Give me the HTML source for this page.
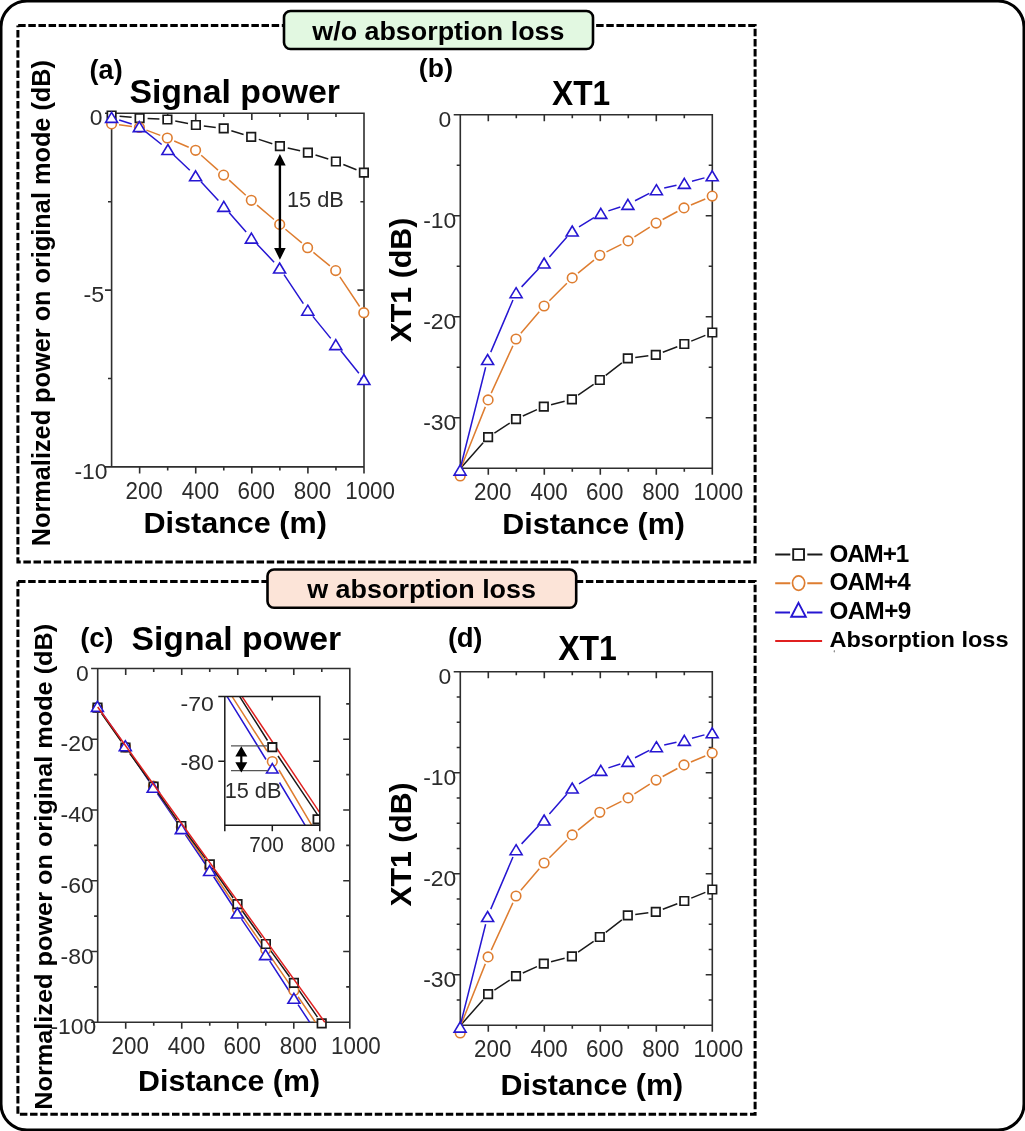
<!DOCTYPE html>
<html><head><meta charset="utf-8"><title>figure</title>
<style>
html,body{margin:0;padding:0;background:#fff;overflow:hidden;}
svg{display:block;}
text{font-family:'Liberation Sans', Arial, sans-serif;}
</style></head>
<body>
<svg width="1025" height="1131" viewBox="0 0 1025 1131">
<rect width="1025" height="1131" fill="#fff"/>
<rect x="1" y="1" width="1023" height="1129" rx="26" ry="26" fill="none" stroke="#000" stroke-width="3"/>
<rect x="17.9" y="25.5" width="737.2" height="536.4" fill="none" stroke="#000" stroke-width="3" stroke-dasharray="7.5 2.64" stroke-dashoffset="9.88"/>
<rect x="17.9" y="581.5" width="737.2" height="532.8" fill="none" stroke="#000" stroke-width="3" stroke-dasharray="7.5 2.64" stroke-dashoffset="10.02"/>
<rect x="284" y="11" width="309" height="38" rx="6.5" fill="#e2f8e1" stroke="#000" stroke-width="2.6"/>
<text transform="translate(312.30 39.69) scale(1.0440 1)" font-size="25.74" font-weight="bold" fill="#000">w/o absorption loss</text>
<rect x="267.5" y="569.5" width="308.7" height="38.3" rx="6.5" fill="#fce4d8" stroke="#000" stroke-width="2.6"/>
<text transform="translate(307.20 598.13) scale(1.0331 1)" font-size="26.06" font-weight="bold" fill="#000">w absorption loss</text>
<path d="M111.6 113.3H364.0V466.9H111.6ZM139.64 466.9v6.6M139.64 113.3v6.6M167.69 466.9v3.6M167.69 113.3v3.6M195.73 466.9v6.6M195.73 113.3v6.6M223.78 466.9v3.6M223.78 113.3v3.6M251.82 466.9v6.6M251.82 113.3v6.6M279.87 466.9v3.6M279.87 113.3v3.6M307.91 466.9v6.6M307.91 113.3v6.6M335.96 466.9v3.6M335.96 113.3v3.6M364.00 466.9v6.6M364.00 113.3v6.6M111.6 113.30h-6.6M364.0 113.30h-6.6M111.6 201.70h-3.6M364.0 201.70h-3.6M111.6 290.10h-6.6M364.0 290.10h-6.6M111.6 378.50h-3.6M364.0 378.50h-3.6M111.6 466.90h-6.6M364.0 466.90h-6.6" stroke="#2e2e2e" stroke-width="1.6" fill="none"/>
<path d="M119.57 116.24L131.63 117.36M147.59 118.50L159.41 119.10M175.26 121.02L188.04 123.48M203.84 125.97L215.76 127.43M231.34 130.76L243.56 134.54M258.81 139.37L272.29 143.73M287.70 147.98L300.10 150.82M315.52 155.02L328.28 159.08M343.33 164.47L356.47 169.73" stroke="#1a1a1a" stroke-width="1.5" fill="none"/>
<path d="M119.04 124.86L131.96 126.54M146.42 130.14L160.28 135.36M174.18 140.99L188.72 147.31M201.21 155.27L217.99 170.13M229.15 180.15L245.75 195.25M257.02 205.15L273.98 219.55M285.46 229.21L301.84 242.89M313.41 252.44L329.89 265.86M339.86 276.84L359.64 306.46" stroke="#de7d30" stroke-width="1.5" fill="none"/>
<path d="M119.19 119.92L131.71 124.08M145.54 131.60L161.66 144.50M173.70 155.01L189.80 170.29M201.02 181.68L218.38 200.52M229.05 212.43L246.15 232.07M256.89 243.92L274.11 262.18M284.04 274.65L303.36 303.55M312.85 316.40L330.75 338.40M340.82 350.83L358.88 373.27" stroke="#2616d2" stroke-width="1.5" fill="none"/>
<path d="M107.35 111.25h8.5v8.5h-8.5zM135.35 113.85h8.5v8.5h-8.5zM163.15 115.25h8.5v8.5h-8.5zM191.65 120.75h8.5v8.5h-8.5zM219.45 124.15h8.5v8.5h-8.5zM246.95 132.65h8.5v8.5h-8.5zM275.65 141.95h8.5v8.5h-8.5zM303.65 148.35h8.5v8.5h-8.5zM331.65 157.25h8.5v8.5h-8.5zM359.65 168.45h8.5v8.5h-8.5z" stroke="#1a1a1a" stroke-width="1.7" fill="#fff"/>
<circle cx="111.60" cy="123.90" r="4.8" stroke="#de7d30" stroke-width="1.6" fill="#fff"/><circle cx="139.40" cy="127.50" r="4.8" stroke="#de7d30" stroke-width="1.6" fill="#fff"/><circle cx="167.30" cy="138.00" r="4.8" stroke="#de7d30" stroke-width="1.6" fill="#fff"/><circle cx="195.60" cy="150.30" r="4.8" stroke="#de7d30" stroke-width="1.6" fill="#fff"/><circle cx="223.60" cy="175.10" r="4.8" stroke="#de7d30" stroke-width="1.6" fill="#fff"/><circle cx="251.30" cy="200.30" r="4.8" stroke="#de7d30" stroke-width="1.6" fill="#fff"/><circle cx="279.70" cy="224.40" r="4.8" stroke="#de7d30" stroke-width="1.6" fill="#fff"/><circle cx="307.60" cy="247.70" r="4.8" stroke="#de7d30" stroke-width="1.6" fill="#fff"/><circle cx="335.70" cy="270.60" r="4.8" stroke="#de7d30" stroke-width="1.6" fill="#fff"/><circle cx="363.80" cy="312.70" r="4.8" stroke="#de7d30" stroke-width="1.6" fill="#fff"/>
<path d="M111.60 112.40L117.60 122.40L105.60 122.40zM139.30 121.60L145.30 131.60L133.30 131.60zM167.90 144.50L173.90 154.50L161.90 154.50zM195.60 170.80L201.60 180.80L189.60 180.80zM223.80 201.40L229.80 211.40L217.80 211.40zM251.40 233.10L257.40 243.10L245.40 243.10zM279.60 263.00L285.60 273.00L273.60 273.00zM307.80 305.20L313.80 315.20L301.80 315.20zM335.80 339.60L341.80 349.60L329.80 349.60zM363.90 374.50L369.90 384.50L357.90 384.50z" stroke="#2616d2" stroke-width="1.6" fill="#fff" stroke-linejoin="miter"/>
<path d="M279.9 162V252" stroke="#000" stroke-width="2.4"/>
<path d="M279.9 154L285.7 165.6H274.1Z M279.9 259.7L285.7 248.1H274.1Z" fill="#000"/>
<text transform="translate(286.96 206.99) scale(1.0263 1)" font-size="21.22" font-weight="normal" fill="#2b2b2b">15 dB</text>
<text transform="translate(125.42 498.77) scale(0.9700 1)" font-size="23.10" font-weight="normal" fill="#2b2b2b">200</text><text transform="translate(181.85 498.77) scale(0.9700 1)" font-size="23.10" font-weight="normal" fill="#2b2b2b">400</text><text transform="translate(237.60 498.77) scale(0.9700 1)" font-size="23.10" font-weight="normal" fill="#2b2b2b">600</text><text transform="translate(293.80 498.77) scale(0.9700 1)" font-size="23.10" font-weight="normal" fill="#2b2b2b">800</text><text transform="translate(345.18 498.77) scale(0.9700 1)" font-size="23.10" font-weight="normal" fill="#2b2b2b">1000</text>
<text transform="translate(89.78 125.48) scale(1.0300 1)" font-size="22.25" font-weight="normal" fill="#2b2b2b">0</text><text transform="translate(83.54 302.27) scale(1.0300 1)" font-size="22.57" font-weight="normal" fill="#2b2b2b">-5</text><text transform="translate(74.48 479.08) scale(1.0300 1)" font-size="22.25" font-weight="normal" fill="#2b2b2b">-10</text>
<text transform="translate(143.46 533.09) scale(1.0339 1)" font-size="29.57" font-weight="bold" fill="#000">Distance (m)</text>
<text transform="translate(50.46 546.27) rotate(-90) scale(0.9950 1)" font-size="25.43" font-weight="bold" fill="#000">Normalized power on original mode (dB)</text>
<text transform="translate(89.45 78.83)" font-size="27.02" font-weight="bold" fill="#000" letter-spacing="0.12">(a)</text>
<text transform="translate(129.38 102.67) scale(1.0265 1)" font-size="32.98" font-weight="bold" fill="#000">Signal power</text>
<g transform="translate(0 0)"><path d="M460.3 114.7H712.3V468.2H460.3ZM488.30 468.2v6.6M488.30 114.7v6.6M516.30 468.2v3.6M516.30 114.7v3.6M544.30 468.2v6.6M544.30 114.7v6.6M572.30 468.2v3.6M572.30 114.7v3.6M600.30 468.2v6.6M600.30 114.7v6.6M628.30 468.2v3.6M628.30 114.7v3.6M656.30 468.2v6.6M656.30 114.7v6.6M684.30 468.2v3.6M684.30 114.7v3.6M712.30 468.2v6.6M712.30 114.7v6.6M460.3 114.70h-6.6M712.3 114.70h-6.6M460.3 165.20h-3.6M712.3 165.20h-3.6M460.3 215.70h-6.6M712.3 215.70h-6.6M460.3 266.20h-3.6M712.3 266.20h-3.6M460.3 316.70h-6.6M712.3 316.70h-6.6M460.3 367.20h-3.6M712.3 367.20h-3.6M460.3 417.70h-6.6M712.3 417.70h-6.6" stroke="#2e2e2e" stroke-width="1.6" fill="none"/><path d="M461.50 467.20L483.13 442.72M494.40 433.03L509.70 423.17M522.84 416.02L536.96 409.68M551.06 404.71L564.64 401.19M578.07 395.03L593.63 384.27M605.73 375.41L621.87 362.89M635.25 357.40L648.35 355.80M662.81 352.22L677.29 346.68M691.24 341.15L705.36 335.35" stroke="#1a1a1a" stroke-width="1.5" fill="none"/><path d="M461.50 466.50L485.32 406.87M491.22 393.08L512.88 345.82M520.86 333.29L539.24 311.71M549.40 300.70L566.90 283.20M578.00 273.15L594.00 260.05M606.48 251.90L621.42 244.30M634.43 236.88L649.77 227.12M662.69 219.51L677.41 211.49M690.92 205.00L705.28 199.00" stroke="#de7d30" stroke-width="1.5" fill="none"/><path d="M461.00 465.50L485.65 367.26M490.74 352.14L512.96 300.06M521.59 286.88L538.61 268.82M549.38 256.99L566.92 237.01M579.01 226.81L593.99 217.59M608.39 210.88L620.31 206.92M635.01 200.73L649.29 193.37M664.20 187.94L676.50 185.16M692.02 181.30L704.48 177.90" stroke="#2616d2" stroke-width="1.5" fill="none"/><path d="M483.85 432.85h8.5v8.5h-8.5zM511.75 414.85h8.5v8.5h-8.5zM539.55 402.35h8.5v8.5h-8.5zM567.65 395.05h8.5v8.5h-8.5zM595.55 375.75h8.5v8.5h-8.5zM623.55 354.05h8.5v8.5h-8.5zM651.55 350.65h8.5v8.5h-8.5zM680.05 339.75h8.5v8.5h-8.5zM708.05 328.25h8.5v8.5h-8.5z" stroke="#1a1a1a" stroke-width="1.7" fill="#fff"/><circle cx="460.20" cy="476.00" r="4.8" stroke="#de7d30" stroke-width="1.6" fill="#fff"/><circle cx="488.10" cy="399.90" r="4.8" stroke="#de7d30" stroke-width="1.6" fill="#fff"/><circle cx="516.00" cy="339.00" r="4.8" stroke="#de7d30" stroke-width="1.6" fill="#fff"/><circle cx="544.10" cy="306.00" r="4.8" stroke="#de7d30" stroke-width="1.6" fill="#fff"/><circle cx="572.20" cy="277.90" r="4.8" stroke="#de7d30" stroke-width="1.6" fill="#fff"/><circle cx="599.80" cy="255.30" r="4.8" stroke="#de7d30" stroke-width="1.6" fill="#fff"/><circle cx="628.10" cy="240.90" r="4.8" stroke="#de7d30" stroke-width="1.6" fill="#fff"/><circle cx="656.10" cy="223.10" r="4.8" stroke="#de7d30" stroke-width="1.6" fill="#fff"/><circle cx="684.00" cy="207.90" r="4.8" stroke="#de7d30" stroke-width="1.6" fill="#fff"/><circle cx="712.20" cy="196.10" r="4.8" stroke="#de7d30" stroke-width="1.6" fill="#fff"/><path d="M460.10 465.10L466.10 475.10L454.10 475.10zM487.60 354.50L493.60 364.50L481.60 364.50zM516.10 287.70L522.10 297.70L510.10 297.70zM544.10 258.00L550.10 268.00L538.10 268.00zM572.20 226.00L578.20 236.00L566.20 236.00zM600.80 208.40L606.80 218.40L594.80 218.40zM627.90 199.40L633.90 209.40L621.90 209.40zM656.40 184.70L662.40 194.70L650.40 194.70zM684.30 178.40L690.30 188.40L678.30 188.40zM712.20 170.80L718.20 180.80L706.20 180.80z" stroke="#2616d2" stroke-width="1.6" fill="#fff" stroke-linejoin="miter"/><text transform="translate(474.08 500.07) scale(0.9700 1)" font-size="23.10" font-weight="normal" fill="#2b2b2b">200</text><text transform="translate(530.42 500.07) scale(0.9700 1)" font-size="23.10" font-weight="normal" fill="#2b2b2b">400</text><text transform="translate(586.08 500.07) scale(0.9700 1)" font-size="23.10" font-weight="normal" fill="#2b2b2b">600</text><text transform="translate(642.19 500.07) scale(0.9700 1)" font-size="23.10" font-weight="normal" fill="#2b2b2b">800</text><text transform="translate(693.48 500.07) scale(0.9700 1)" font-size="23.10" font-weight="normal" fill="#2b2b2b">1000</text><text transform="translate(438.48 126.88) scale(1.0300 1)" font-size="22.25" font-weight="normal" fill="#2b2b2b">0</text><text transform="translate(423.18 227.88) scale(1.0300 1)" font-size="22.25" font-weight="normal" fill="#2b2b2b">-10</text><text transform="translate(423.18 328.88) scale(1.0300 1)" font-size="22.25" font-weight="normal" fill="#2b2b2b">-20</text><text transform="translate(423.18 429.88) scale(1.0300 1)" font-size="22.25" font-weight="normal" fill="#2b2b2b">-30</text></g>
<text transform="translate(411.17 342.60) rotate(-90) scale(1.0257 1)" font-size="29.68" font-weight="bold" fill="#000">XT1 (dB)</text>
<text transform="translate(418.68 77.24)" font-size="26.49" font-weight="bold" fill="#000" letter-spacing="0.32">(b)</text>
<text transform="translate(551.98 104.90) scale(0.9082 1)" font-size="34.93" font-weight="bold" fill="#000">XT1</text>
<text transform="translate(502.37 533.70) scale(1.0142 1)" font-size="30.00" font-weight="bold" fill="#000">Distance (m)</text>
<g transform="translate(0 557)"><path d="M460.3 114.7H712.3V468.2H460.3ZM488.30 468.2v6.6M488.30 114.7v6.6M516.30 468.2v3.6M516.30 114.7v3.6M544.30 468.2v6.6M544.30 114.7v6.6M572.30 468.2v3.6M572.30 114.7v3.6M600.30 468.2v6.6M600.30 114.7v6.6M628.30 468.2v3.6M628.30 114.7v3.6M656.30 468.2v6.6M656.30 114.7v6.6M684.30 468.2v3.6M684.30 114.7v3.6M712.30 468.2v6.6M712.30 114.7v6.6M460.3 114.70h-6.6M712.3 114.70h-6.6M460.3 139.95h-3.6M712.3 139.95h-3.6M460.3 165.20h-3.6M712.3 165.20h-3.6M460.3 190.45h-3.6M712.3 190.45h-3.6M460.3 215.70h-6.6M712.3 215.70h-6.6M460.3 240.95h-3.6M712.3 240.95h-3.6M460.3 266.20h-3.6M712.3 266.20h-3.6M460.3 291.45h-3.6M712.3 291.45h-3.6M460.3 316.70h-6.6M712.3 316.70h-6.6M460.3 341.95h-3.6M712.3 341.95h-3.6M460.3 367.20h-3.6M712.3 367.20h-3.6M460.3 392.45h-3.6M712.3 392.45h-3.6M460.3 417.70h-6.6M712.3 417.70h-6.6M460.3 442.95h-3.6M712.3 442.95h-3.6" stroke="#2e2e2e" stroke-width="1.6" fill="none"/><path d="M461.50 467.20L483.13 442.72M494.40 433.03L509.70 423.17M522.84 416.02L536.96 409.68M551.06 404.71L564.64 401.19M578.07 395.03L593.63 384.27M605.73 375.41L621.87 362.89M635.25 357.40L648.35 355.80M662.81 352.22L677.29 346.68M691.24 341.15L705.36 335.35" stroke="#1a1a1a" stroke-width="1.5" fill="none"/><path d="M461.50 466.50L485.32 406.87M491.22 393.08L512.88 345.82M520.86 333.29L539.24 311.71M549.40 300.70L566.90 283.20M578.00 273.15L594.00 260.05M606.48 251.90L621.42 244.30M634.43 236.88L649.77 227.12M662.69 219.51L677.41 211.49M690.92 205.00L705.28 199.00" stroke="#de7d30" stroke-width="1.5" fill="none"/><path d="M461.00 465.50L485.65 367.26M490.74 352.14L512.96 300.06M521.59 286.88L538.61 268.82M549.38 256.99L566.92 237.01M579.01 226.81L593.99 217.59M608.39 210.88L620.31 206.92M635.01 200.73L649.29 193.37M664.20 187.94L676.50 185.16M692.02 181.30L704.48 177.90" stroke="#2616d2" stroke-width="1.5" fill="none"/><path d="M483.85 432.85h8.5v8.5h-8.5zM511.75 414.85h8.5v8.5h-8.5zM539.55 402.35h8.5v8.5h-8.5zM567.65 395.05h8.5v8.5h-8.5zM595.55 375.75h8.5v8.5h-8.5zM623.55 354.05h8.5v8.5h-8.5zM651.55 350.65h8.5v8.5h-8.5zM680.05 339.75h8.5v8.5h-8.5zM708.05 328.25h8.5v8.5h-8.5z" stroke="#1a1a1a" stroke-width="1.7" fill="#fff"/><circle cx="460.20" cy="476.00" r="4.8" stroke="#de7d30" stroke-width="1.6" fill="#fff"/><circle cx="488.10" cy="399.90" r="4.8" stroke="#de7d30" stroke-width="1.6" fill="#fff"/><circle cx="516.00" cy="339.00" r="4.8" stroke="#de7d30" stroke-width="1.6" fill="#fff"/><circle cx="544.10" cy="306.00" r="4.8" stroke="#de7d30" stroke-width="1.6" fill="#fff"/><circle cx="572.20" cy="277.90" r="4.8" stroke="#de7d30" stroke-width="1.6" fill="#fff"/><circle cx="599.80" cy="255.30" r="4.8" stroke="#de7d30" stroke-width="1.6" fill="#fff"/><circle cx="628.10" cy="240.90" r="4.8" stroke="#de7d30" stroke-width="1.6" fill="#fff"/><circle cx="656.10" cy="223.10" r="4.8" stroke="#de7d30" stroke-width="1.6" fill="#fff"/><circle cx="684.00" cy="207.90" r="4.8" stroke="#de7d30" stroke-width="1.6" fill="#fff"/><circle cx="712.20" cy="196.10" r="4.8" stroke="#de7d30" stroke-width="1.6" fill="#fff"/><path d="M460.10 465.10L466.10 475.10L454.10 475.10zM487.60 354.50L493.60 364.50L481.60 364.50zM516.10 287.70L522.10 297.70L510.10 297.70zM544.10 258.00L550.10 268.00L538.10 268.00zM572.20 226.00L578.20 236.00L566.20 236.00zM600.80 208.40L606.80 218.40L594.80 218.40zM627.90 199.40L633.90 209.40L621.90 209.40zM656.40 184.70L662.40 194.70L650.40 194.70zM684.30 178.40L690.30 188.40L678.30 188.40zM712.20 170.80L718.20 180.80L706.20 180.80z" stroke="#2616d2" stroke-width="1.6" fill="#fff" stroke-linejoin="miter"/><text transform="translate(474.08 500.07) scale(0.9700 1)" font-size="23.10" font-weight="normal" fill="#2b2b2b">200</text><text transform="translate(530.42 500.07) scale(0.9700 1)" font-size="23.10" font-weight="normal" fill="#2b2b2b">400</text><text transform="translate(586.08 500.07) scale(0.9700 1)" font-size="23.10" font-weight="normal" fill="#2b2b2b">600</text><text transform="translate(642.19 500.07) scale(0.9700 1)" font-size="23.10" font-weight="normal" fill="#2b2b2b">800</text><text transform="translate(693.48 500.07) scale(0.9700 1)" font-size="23.10" font-weight="normal" fill="#2b2b2b">1000</text><text transform="translate(438.48 126.88) scale(1.0300 1)" font-size="22.25" font-weight="normal" fill="#2b2b2b">0</text><text transform="translate(423.18 227.88) scale(1.0300 1)" font-size="22.25" font-weight="normal" fill="#2b2b2b">-10</text><text transform="translate(423.18 328.88) scale(1.0300 1)" font-size="22.25" font-weight="normal" fill="#2b2b2b">-20</text><text transform="translate(423.18 429.88) scale(1.0300 1)" font-size="22.25" font-weight="normal" fill="#2b2b2b">-30</text></g>
<text transform="translate(411.17 906.60) rotate(-90) scale(1.0191 1)" font-size="29.68" font-weight="bold" fill="#000">XT1 (dB)</text>
<text transform="translate(447.92 646.91)" font-size="27.55" font-weight="bold" fill="#000" letter-spacing="-0.31">(d)</text>
<text transform="translate(558.18 660.00) scale(0.9049 1)" font-size="35.36" font-weight="bold" fill="#000">XT1</text>
<text transform="translate(500.47 1094.64) scale(1.0214 1)" font-size="29.79" font-weight="bold" fill="#000">Distance (m)</text>
<path d="M97.7 668.5H349.8V1022.2H97.7ZM125.71 1022.2v6.6M125.71 668.5v6.6M153.72 1022.2v3.6M153.72 668.5v3.6M181.73 1022.2v6.6M181.73 668.5v6.6M209.74 1022.2v3.6M209.74 668.5v3.6M237.76 1022.2v6.6M237.76 668.5v6.6M265.77 1022.2v3.6M265.77 668.5v3.6M293.78 1022.2v6.6M293.78 668.5v6.6M321.79 1022.2v3.6M321.79 668.5v3.6M349.80 1022.2v6.6M349.80 668.5v6.6M97.7 668.50h-6.6M349.8 668.50h-6.6M97.7 703.87h-3.6M349.8 703.87h-3.6M97.7 739.24h-6.6M349.8 739.24h-6.6M97.7 774.61h-3.6M349.8 774.61h-3.6M97.7 809.98h-6.6M349.8 809.98h-6.6M97.7 845.35h-3.6M349.8 845.35h-3.6M97.7 880.72h-6.6M349.8 880.72h-6.6M97.7 916.09h-3.6M349.8 916.09h-3.6M97.7 951.46h-6.6M349.8 951.46h-6.6M97.7 986.83h-3.6M349.8 986.83h-3.6M97.7 1022.20h-6.6M349.8 1022.20h-6.6" stroke="#2e2e2e" stroke-width="1.6" fill="none"/>
<defs><clipPath id="cc"><rect x="97" y="668" width="253" height="354.2"/></clipPath></defs>
<g clip-path="url(#cc)">
<path d="M101.74 712.52L120.96 739.58M129.48 751.93L149.02 781.07M157.42 793.50L177.08 822.40M185.50 834.82L205.40 864.28M213.70 876.78L233.20 906.72M241.52 919.20L261.38 948.40M269.68 960.90L289.82 992.00M298.03 1004.56L317.57 1034.24" stroke="#2616d2" stroke-width="1.5" fill="none"/>
<path d="M101.83 713.63L121.07 740.87M129.77 753.09L149.03 779.91M157.62 792.20L177.08 820.80M185.61 833.14L205.39 861.36M213.86 873.74L233.24 902.76M241.70 915.15L261.40 943.35M269.95 955.68L289.65 984.32M298.11 996.71L317.49 1025.29" stroke="#de7d30" stroke-width="1.5" fill="none"/>
<path d="M101.82 713.83L121.18 741.37M129.88 753.59L149.22 780.51M157.91 792.74L176.99 819.86M185.77 832.02L205.33 858.38M214.09 870.55L233.21 897.95M241.85 910.21L261.55 937.89M270.28 950.09L289.52 976.81M298.15 989.08L317.45 1017.12" stroke="#1a1a1a" stroke-width="1.5" fill="none"/>
</g>
<circle cx="97.50" cy="707.50" r="4.8" stroke="#de7d30" stroke-width="1.6" fill="#fff"/><circle cx="125.40" cy="747.00" r="4.8" stroke="#de7d30" stroke-width="1.6" fill="#fff"/><circle cx="153.40" cy="786.00" r="4.8" stroke="#de7d30" stroke-width="1.6" fill="#fff"/><circle cx="181.30" cy="827.00" r="4.8" stroke="#de7d30" stroke-width="1.6" fill="#fff"/><circle cx="209.70" cy="867.50" r="4.8" stroke="#de7d30" stroke-width="1.6" fill="#fff"/><circle cx="237.40" cy="909.00" r="4.8" stroke="#de7d30" stroke-width="1.6" fill="#fff"/><circle cx="265.70" cy="949.50" r="4.8" stroke="#de7d30" stroke-width="1.6" fill="#fff"/><circle cx="293.90" cy="990.50" r="4.8" stroke="#de7d30" stroke-width="1.6" fill="#fff"/>
<path d="M93.25 703.45h8.5v8.5h-8.5zM121.25 743.25h8.5v8.5h-8.5zM149.35 782.35h8.5v8.5h-8.5zM177.05 821.75h8.5v8.5h-8.5zM205.55 860.15h8.5v8.5h-8.5zM233.25 899.85h8.5v8.5h-8.5zM261.65 939.75h8.5v8.5h-8.5zM289.65 978.65h8.5v8.5h-8.5zM317.45 1019.05h8.5v8.5h-8.5z" stroke="#1a1a1a" stroke-width="1.7" fill="#fff"/>
<path d="M97.40 701.40L103.40 711.40L91.40 711.40zM125.30 740.70L131.30 750.70L119.30 750.70zM153.20 782.30L159.20 792.30L147.20 792.30zM181.30 823.60L187.30 833.60L175.30 833.60zM209.60 865.50L215.60 875.50L203.60 875.50zM237.30 908.00L243.30 918.00L231.30 918.00zM265.60 949.60L271.60 959.60L259.60 959.60zM293.90 993.30L299.90 1003.30L287.90 1003.30z" stroke="#2616d2" stroke-width="1.6" fill="#fff" stroke-linejoin="miter"/>
<path d="M97.7 707.0L324.8 1022.2" stroke="#e02020" stroke-width="1.5"/>
<text transform="translate(111.49 1054.07) scale(0.9700 1)" font-size="23.10" font-weight="normal" fill="#2b2b2b">200</text><text transform="translate(167.85 1054.07) scale(0.9700 1)" font-size="23.10" font-weight="normal" fill="#2b2b2b">400</text><text transform="translate(223.53 1054.07) scale(0.9700 1)" font-size="23.10" font-weight="normal" fill="#2b2b2b">600</text><text transform="translate(279.67 1054.07) scale(0.9700 1)" font-size="23.10" font-weight="normal" fill="#2b2b2b">800</text><text transform="translate(330.98 1054.07) scale(0.9700 1)" font-size="23.10" font-weight="normal" fill="#2b2b2b">1000</text>
<text transform="translate(75.88 680.68) scale(1.0300 1)" font-size="22.25" font-weight="normal" fill="#2b2b2b">0</text><text transform="translate(60.58 751.42) scale(1.0300 1)" font-size="22.25" font-weight="normal" fill="#2b2b2b">-20</text><text transform="translate(60.58 822.16) scale(1.0300 1)" font-size="22.25" font-weight="normal" fill="#2b2b2b">-40</text><text transform="translate(60.58 892.90) scale(1.0300 1)" font-size="22.25" font-weight="normal" fill="#2b2b2b">-60</text><text transform="translate(60.58 963.64) scale(1.0300 1)" font-size="22.25" font-weight="normal" fill="#2b2b2b">-80</text><text transform="translate(50.47 1034.38) scale(1.0300 1)" font-size="22.25" font-weight="normal" fill="#2b2b2b">-100</text>
<text transform="translate(51.89 1109.77) rotate(-90) scale(1.0204 1)" font-size="24.79" font-weight="bold" fill="#000">Normalized power on original mode (dB)</text>
<text transform="translate(80.22 646.91)" font-size="27.55" font-weight="bold" fill="#000" letter-spacing="-0.18">(c)</text>
<text transform="translate(131.49 650.35) scale(1.0183 1)" font-size="33.09" font-weight="bold" fill="#000">Signal power</text>
<text transform="translate(138.08 1090.71) scale(1.0290 1)" font-size="29.47" font-weight="bold" fill="#000">Distance (m)</text>
<rect x="224.8" y="696.6" width="95.0" height="128.69999999999993" fill="#fff"/>
<defs><clipPath id="ci"><rect x="224.8" y="696.6" width="95" height="128.7"/></clipPath></defs>
<g clip-path="url(#ci)">
<path d="M242.1 696.6L319.8 812.7" stroke="#e02020" stroke-width="1.5"/>
<path d="M239.7 696.6L267.5 740.5M278 756L321 820" stroke="#1a1a1a" stroke-width="1.5"/>
<path d="M232.2 696.6L267 751M279 770L311.8 825.3" stroke="#de7d30" stroke-width="1.5"/>
<path d="M227.2 696.6L266 759.5M279.5 782.5L305.2 825.3" stroke="#2616d2" stroke-width="1.5"/>
<path d="M268.10 743.00h8.4v8.4h-8.4zM313.40 815.10h8.4v8.4h-8.4z" stroke="#1a1a1a" stroke-width="1.8" fill="#fff"/>
<circle cx="272.30" cy="761.50" r="4.8" stroke="#de7d30" stroke-width="1.6" fill="#fff"/>
<path d="M272.30 763.55L278.05 773.05L266.55 773.05z" stroke="#2616d2" stroke-width="1.6" fill="#fff" stroke-linejoin="miter"/>
</g>
<path d="M224.8 696.6H319.8V825.3H224.8Z M224.8 825.3v6 M272.3 825.3v6 M319.8 825.3v6 M272.3 696.6v4 M224.8 696.6h-6.5 M224.8 761.3h-6.5 M319.8 761.3h-6.5" stroke="#1a1a1a" stroke-width="1.5" fill="none"/>
<path d="M231 745.8H268M231 770.7H268" stroke="#555" stroke-width="1.3"/>
<path d="M241.3 750V767" stroke="#000" stroke-width="2.2"/><path d="M241.3 746.3L247.3 756.5H235.3Z M241.3 772.4L247.3 762.2H235.3Z" fill="#000"/>
<text transform="translate(224.66 798.39) scale(1.0179 1)" font-size="21.35" font-weight="normal" fill="#2b2b2b">15 dB</text>
<text transform="translate(180.53 710.79) scale(1.1200 1)" font-size="20.56" font-weight="normal" fill="#2b2b2b">-70</text>
<text transform="translate(180.40 769.99) scale(1.0800 1)" font-size="21.41" font-weight="normal" fill="#2b2b2b">-80</text>
<text transform="translate(249.16 851.59) scale(0.9700 1)" font-size="21.41" font-weight="normal" fill="#2b2b2b">700</text>
<text transform="translate(300.66 851.59) scale(0.9700 1)" font-size="21.41" font-weight="normal" fill="#2b2b2b">800</text>
<path d="M775.2 554.6H790.3M807.3 554.6H822.4" stroke="#1a1a1a" stroke-width="2"/>
<path d="M793.20 549.10h10.8v10.8h-10.8z" stroke="#1a1a1a" stroke-width="1.9" fill="#fff"/>
<path d="M775.2 583.3H790.3M807.3 583.3H822.4" stroke="#de7d30" stroke-width="2"/>
<ellipse cx="798.6" cy="583.1" rx="6.1" ry="7.2" stroke="#de7d30" stroke-width="1.7" fill="#fff"/>
<path d="M775.2 612.6H790M807 612.6H822.4" stroke="#2616d2" stroke-width="2"/>
<path d="M798.50 602.90L805.80 616.70L791.20 616.70z" stroke="#2616d2" stroke-width="1.9" fill="#fff" stroke-linejoin="miter"/>
<path d="M775.2 640.9H822.1" stroke="#e02020" stroke-width="2"/>
<text transform="translate(829.43 561.56)" font-size="24.23" font-weight="bold" fill="#000" letter-spacing="-1.10">OAM+1</text>
<text transform="translate(829.43 590.06)" font-size="24.23" font-weight="bold" fill="#000" letter-spacing="-0.70">OAM+4</text>
<text transform="translate(829.43 618.51)" font-size="24.23" font-weight="bold" fill="#000" letter-spacing="-0.57">OAM+9</text>
<text transform="translate(829.49 646.92) scale(1.0335 1)" font-size="22.77" font-weight="bold" fill="#000">Absorption loss</text>
<ellipse cx="834.3" cy="651.2" rx="0.6" ry="1.3" fill="#888"/>
</svg>
</body></html>
